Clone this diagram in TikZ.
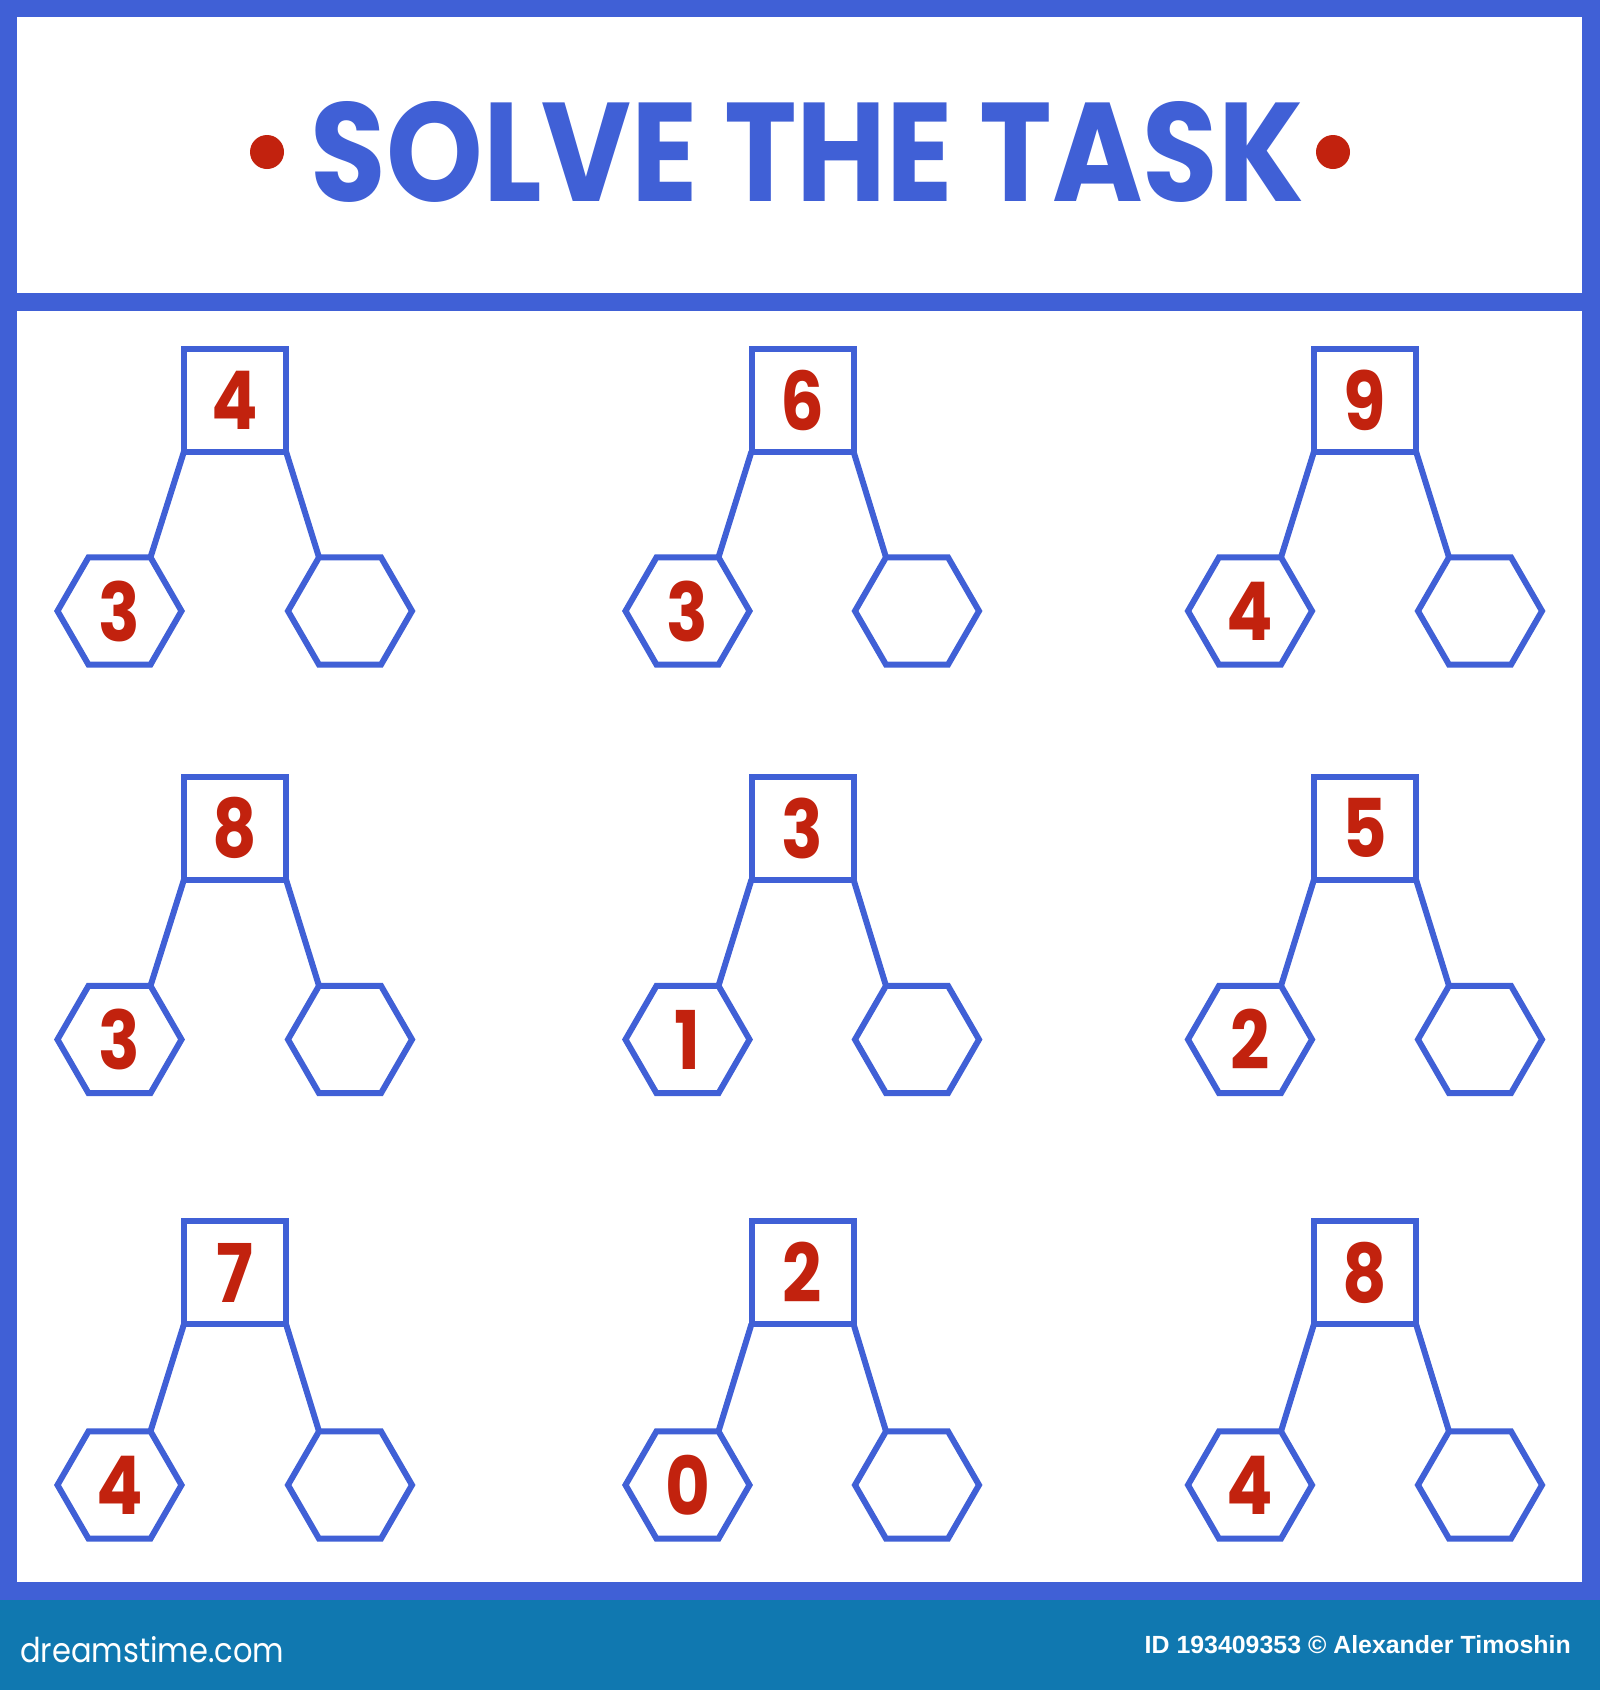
\documentclass[tikz,border=0pt]{standalone}
\usepackage{fontspec}
\usepackage{graphicx}
\usetikzlibrary{shapes.geometric}
\newfontfamily\cifrafont{Poppins}
\newfontfamily\piefont{Liberation Sans}
\definecolor{azul}{RGB}{64,96,214}
\definecolor{rojo}{RGB}{194,34,14}
\definecolor{franja}{RGB}{16,120,176}
\newcommand{\cifra}[1]{\scalebox{0.85}[1]{#1}}
\begin{document}
\begin{tikzpicture}[x=1pt,y=-1pt,
  caja/.style={rectangle, draw=azul, line width=6pt, minimum width=102pt, minimum height=103pt,
    inner sep=0pt, outer sep=0pt, text=rojo, font=\cifrafont\bfseries\fontsize{81}{81}\selectfont},
  hexa/.style={regular polygon, regular polygon sides=6, draw=azul, line width=6pt, minimum size=124pt,
    inner sep=0pt, outer sep=0pt, text=rojo, font=\cifrafont\bfseries\fontsize{81}{81}\selectfont},
  rama/.style={draw=azul, line width=6pt},
  punto/.style={circle, fill=rojo, minimum size=34pt, inner sep=0pt}]
\useasboundingbox (0,0) rectangle (1600,1690);
% Marco
\fill[azul] (0,0) rectangle (1600,1600);
\fill[franja] (0,1600) rectangle (1600,1690);
\fill[white] (17,17) rectangle (1582,293);
\fill[white] (17,311) rectangle (1582,1582);
% Titulo
\node[text=azul, inner sep=0pt] (titulo) at (807.5,152) {\resizebox{993pt}{100pt}{\cifrafont\bfseries SOLVE THE TASK}};
\node[punto] (pto1) at (267,152) {};
\node[punto] (pto2) at (1333,152) {};
% Arbol 1
\node[caja] (c1) at (235,400) {\cifra{4}};
\node[hexa] (i1) at (119.5,611) {\cifra{3}};
\node[hexa] (d1) at (350,611) {};
\draw[rama] (i1.60) -- (c1.south west) (c1.south east) -- (d1.120);
% Arbol 2
\node[caja] (c2) at (802.5,400) {\cifra{6}};
\node[hexa] (i2) at (687.5,611) {\cifra{3}};
\node[hexa] (d2) at (917,611) {};
\draw[rama] (i2.60) -- (c2.south west) (c2.south east) -- (d2.120);
% Arbol 3
\node[caja] (c3) at (1365,400) {\cifra{9}};
\node[hexa] (i3) at (1250,611) {\cifra{4}};
\node[hexa] (d3) at (1480,611) {};
\draw[rama] (i3.60) -- (c3.south west) (c3.south east) -- (d3.120);
% Arbol 4
\node[caja] (c4) at (235,828) {\cifra{8}};
\node[hexa] (i4) at (119.5,1039.5) {\cifra{3}};
\node[hexa] (d4) at (350,1039.5) {};
\draw[rama] (i4.60) -- (c4.south west) (c4.south east) -- (d4.120);
% Arbol 5
\node[caja] (c5) at (802.5,828) {\cifra{3}};
\node[hexa] (i5) at (687.5,1039.5) {\cifra{1}};
\node[hexa] (d5) at (917,1039.5) {};
\draw[rama] (i5.60) -- (c5.south west) (c5.south east) -- (d5.120);
% Arbol 6
\node[caja] (c6) at (1365,828) {\cifra{5}};
\node[hexa] (i6) at (1250,1039.5) {\cifra{2}};
\node[hexa] (d6) at (1480,1039.5) {};
\draw[rama] (i6.60) -- (c6.south west) (c6.south east) -- (d6.120);
% Arbol 7
\node[caja] (c7) at (235,1272.5) {\cifra{7}};
\node[hexa] (i7) at (119.5,1485) {\cifra{4}};
\node[hexa] (d7) at (350,1485) {};
\draw[rama] (i7.60) -- (c7.south west) (c7.south east) -- (d7.120);
% Arbol 8
\node[caja] (c8) at (802.5,1272.5) {\cifra{2}};
\node[hexa] (i8) at (687.5,1485) {\cifra{0}};
\node[hexa] (d8) at (917,1485) {};
\draw[rama] (i8.60) -- (c8.south west) (c8.south east) -- (d8.120);
% Arbol 9
\node[caja] (c9) at (1365,1272.5) {\cifra{8}};
\node[hexa] (i9) at (1250,1485) {\cifra{4}};
\node[hexa] (d9) at (1480,1485) {};
\draw[rama] (i9.60) -- (c9.south west) (c9.south east) -- (d9.120);
% Pie
\node[anchor=south west, inner sep=0pt, text=white] (marca) at (20,1663) {\resizebox{264pt}{26pt}{\cifrafont dreamstime.com}};
\node[anchor=south east, inner sep=0pt, text=white] (autor) at (1571,1654) {\resizebox{426pt}{18pt}{\piefont\bfseries ID 193409353 \textcopyright{} Alexander Timoshin}};
\end{tikzpicture}
\end{document}
